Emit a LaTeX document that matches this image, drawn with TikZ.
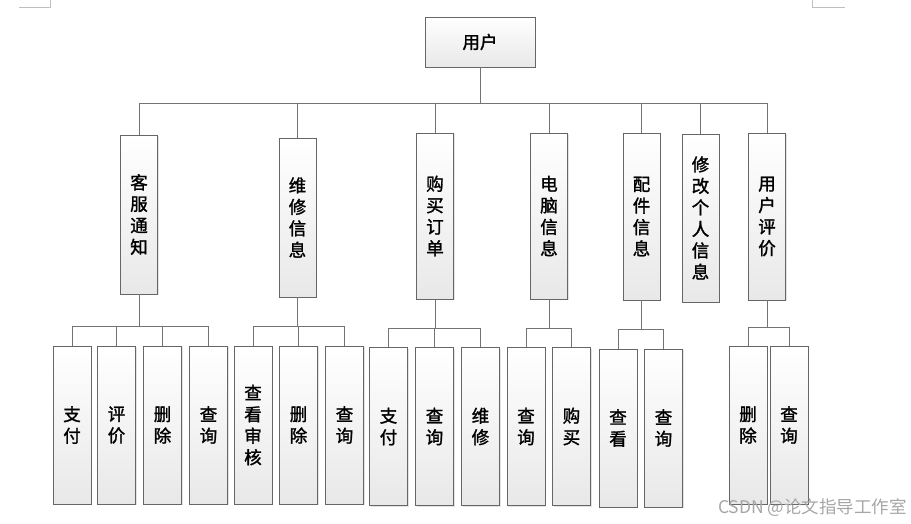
\documentclass[tikz,border=0pt]{standalone}
\usepackage{fontspec}
\newfontfamily\cjk{Noto Sans CJK SC}
\newfontfamily\cjkbold[FakeBold=1.6]{Noto Sans CJK SC}
\usetikzlibrary{shadows}

\tikzset{
  modbox/.style={draw=black!60, line width=0.8pt, top color=white, bottom color=black!9,
    drop shadow={shadow xshift=1.3pt, shadow yshift=-1.3pt, fill=black!22},
    align=center, inner sep=0pt, font=\cjkbold\fontsize{17.5}{21.5}\selectfont},
  midbox/.style={modbox, minimum width=37pt},
  leafbox/.style={modbox, minimum width=38pt, minimum height=158pt},
  link/.style={draw=black!55, line width=0.9pt},
}

\begin{document}
\begin{tikzpicture}[x=1pt, y=-1pt]
		%%%%% START %%%%%
		\useasboundingbox (0,0) rectangle (911,524);
		
		% page corner marks
		\draw[black!25, line width=0.6pt] (19,7) -- (50,7) -- (50,0);
		\draw[black!25, line width=0.6pt] (812,0) -- (812,7) -- (845,7);
		
		% root
		\node[modbox, minimum width=110pt, minimum height=50pt] (user) at (480,42) {用户};
		
		% second level
		\node[midbox, minimum height=159pt] (kefu) at (139,214.5) {客\\服\\通\\知};
		\node[midbox, minimum height=159pt] (weixiu) at (297.5,217.5) {维\\修\\信\\息};
		\node[midbox, minimum height=166pt] (goumai) at (435,216) {购\\买\\订\\单};
		\node[midbox, minimum height=166pt] (diannao) at (549,216) {电\\脑\\信\\息};
		\node[midbox, minimum height=167pt] (peijian) at (641.5,216.5) {配\\件\\信\\息};
		\node[midbox, minimum height=168pt] (xiugai) at (700.5,218) {修\\改\\个\\人\\信\\息};
		\node[midbox, minimum height=167pt] (pingjia) at (767,216.5) {用\\户\\评\\价};
		
		% third level
		\node[leafbox] (zf1) at (72,425) {支\\付};
		\node[leafbox] (pj1) at (116.5,425) {评\\价};
		\node[leafbox] (sc1) at (162.5,425) {删\\除};
		\node[leafbox] (cx1) at (208.5,425) {查\\询};
		
		\node[leafbox] (ck2) at (253,425) {查\\看\\审\\核};
		\node[leafbox] (sc2) at (298.5,425) {删\\除};
		\node[leafbox] (cx2) at (344.5,425) {查\\询};
		
		\node[leafbox] (zf3) at (388.5,426.5) {支\\付};
		\node[leafbox] (cx3) at (434.5,426.5) {查\\询};
		\node[leafbox] (wx3) at (480.5,426.5) {维\\修};
		
		\node[leafbox] (cx4) at (526,426.5) {查\\询};
		\node[leafbox] (gm4) at (571.5,426.5) {购\\买};
		
		\node[leafbox] (ck5) at (618,428) {查\\看};
		\node[leafbox] (cx5) at (663.5,428) {查\\询};
		
		\node[leafbox] (sc6) at (748,425) {删\\除};
		\node[leafbox] (cx6) at (789,425) {查\\询};
		
		% bus levels
		\coordinate (b0) at (0,103);
		\coordinate (b1) at (0,326);
		\coordinate (b2) at (0,326);
		\coordinate (b3) at (0,328);
		\coordinate (b4) at (0,328);
		\coordinate (b5) at (0,329);
		\coordinate (b6) at (0,327);
		
		% root to second level
		\draw[link] (user.south) -- (user.south |- b0);
		\draw[link] (kefu.north |- b0) -- (pingjia.north |- b0);
		\foreach \m in {kefu,weixiu,goumai,diannao,peijian,xiugai,pingjia}
			\draw[link] (\m.north |- b0) -- (\m.north);
		
		% second to third level
		\draw[link] (kefu.south) -- (kefu.south |- b1);
		\draw[link] (zf1.north |- b1) -- (cx1.north |- b1);
		\foreach \m in {zf1,pj1,sc1,cx1}
			\draw[link] (\m.north |- b1) -- (\m.north);
		
		\draw[link] (weixiu.south) -- (weixiu.south |- b2);
		\draw[link] (ck2.north |- b2) -- (cx2.north |- b2);
		\foreach \m in {ck2,sc2,cx2}
			\draw[link] (\m.north |- b2) -- (\m.north);
		
		\draw[link] (goumai.south) -- (goumai.south |- b3);
		\draw[link] (zf3.north |- b3) -- (wx3.north |- b3);
		\foreach \m in {zf3,cx3,wx3}
			\draw[link] (\m.north |- b3) -- (\m.north);
		
		\draw[link] (diannao.south) -- (diannao.south |- b4);
		\draw[link] (cx4.north |- b4) -- (gm4.north |- b4);
		\foreach \m in {cx4,gm4}
			\draw[link] (\m.north |- b4) -- (\m.north);
		
		\draw[link] (peijian.south) -- (peijian.south |- b5);
		\draw[link] (ck5.north |- b5) -- (cx5.north |- b5);
		\foreach \m in {ck5,cx5}
			\draw[link] (\m.north |- b5) -- (\m.north);
		
		\draw[link] (pingjia.south) -- (pingjia.south |- b6);
		\draw[link] (sc6.north |- b6) -- (cx6.north |- b6);
		\foreach \m in {sc6,cx6}
			\draw[link] (\m.north |- b6) -- (\m.north);
		
		% watermark
		\node[anchor=east, inner sep=0pt, text=black!35, font=\cjk\fontsize{17.5}{20}\selectfont] (mark) at (907,508) {CSDN @论文指导工作室};
		
		%%%%% END %%%%%
\end{tikzpicture}
\end{document}
